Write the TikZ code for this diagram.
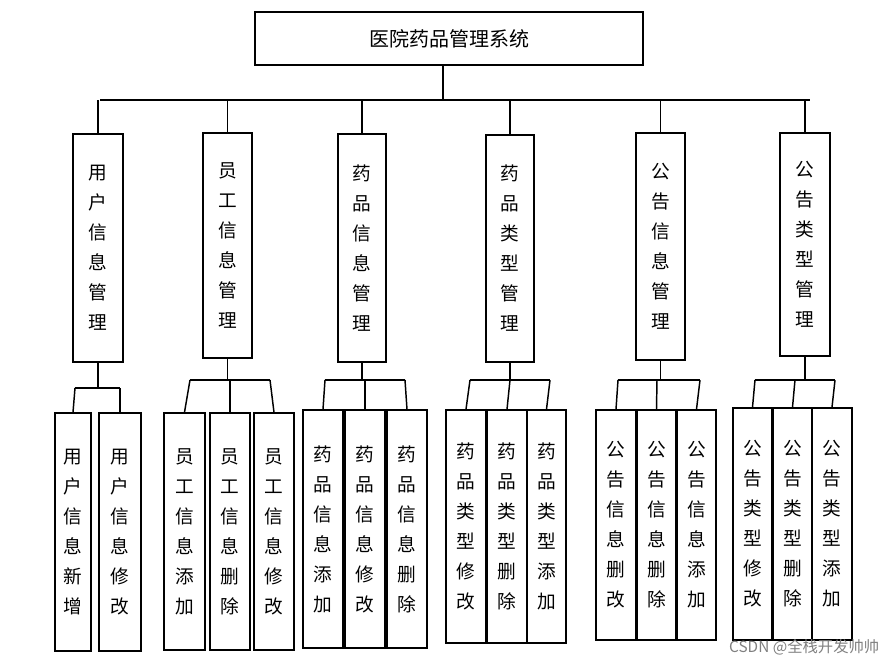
\documentclass[tikz,border=0pt]{standalone}
\usepackage{fontspec}
\newfontfamily\cjk{Noto Sans CJK SC}
\begin{document}
\begin{tikzpicture}[x=0.75pt,y=-0.75pt,
  bx/.style={draw,line width=1.1pt,inner sep=0pt,align=center,font=\cjk\fontsize{14}{22.5}\selectfont},
  ln/.style={line width=1.1pt}]
\useasboundingbox (0,0) rectangle (889,664);
\def\B#1#2#3#4#5#6{\node[bx,minimum width={(#3-#2)*0.75pt},minimum height={(#5-#4)*0.75pt}] (#1) at ({(#2+#3)/2},{(#4+#5)/2}) {#6};}
\B{top}{255}{643}{12}{65}{\fontsize{15}{18}\selectfont 医院药品管理系统}
\B{a}{73}{123}{134}{362}{用\\户\\信\\息\\管\\理}
\B{b}{203}{252}{133}{358}{员\\工\\信\\息\\管\\理}
\B{c}{338}{386}{134}{362}{药\\品\\信\\息\\管\\理}
\B{d}{486}{534}{135}{362}{药\\品\\类\\型\\管\\理}
\B{e}{636}{685}{133}{360}{公\\告\\信\\息\\管\\理}
\B{f}{780}{830}{133}{356}{公\\告\\类\\型\\管\\理}
\coordinate (bus) at (443,100);
\draw[ln] (top.south -| bus) -- (bus);
\draw[ln] (100,100) -- (810,100);
\foreach \n in {a,b,c,d,e,f}{\draw[ln] (\n.north |- bus) -- (\n.north);}
% level 3
\B{a1}{55}{91}{413}{651}{用\\户\\信\\息\\新\\增}
\B{a2}{99}{141}{413}{651}{用\\户\\信\\息\\修\\改}
\B{b1}{164}{205}{413}{650}{员\\工\\信\\息\\添\\加}
\B{b2}{210}{250}{413}{650}{员\\工\\信\\息\\删\\除}
\B{b3}{254}{294}{413}{650}{员\\工\\信\\息\\修\\改}
\B{c1}{303}{343}{410}{648}{药\\品\\信\\息\\添\\加}
\B{c2}{345}{385}{410}{648}{药\\品\\信\\息\\修\\改}
\B{c3}{387}{427}{410}{648}{药\\品\\信\\息\\删\\除}
\B{d1}{446}{486}{410}{643}{药\\品\\类\\型\\修\\改}
\B{d2}{487}{527}{410}{643}{药\\品\\类\\型\\删\\除}
\B{d3}{527}{566}{410}{643}{药\\品\\类\\型\\添\\加}
\B{e1}{596}{636}{410}{640}{公\\告\\信\\息\\删\\改}
\B{e2}{637}{676}{410}{640}{公\\告\\信\\息\\删\\除}
\B{e3}{677}{716}{410}{640}{公\\告\\信\\息\\添\\加}
\B{f1}{733}{772}{408}{640}{公\\告\\类\\型\\修\\改}
\B{f2}{773}{812}{408}{640}{公\\告\\类\\型\\删\\除}
\B{f3}{812}{852}{408}{640}{公\\告\\类\\型\\添\\加}
% group connectors
\draw[ln] (a.south) -- (a.south |- 0,388); \draw[ln] (75,388) -- (120,388);
\draw[ln] (75,388) -- (a1.north); \draw[ln] (120,388) -- (a2.north);
\draw[ln] (b.south) -- (b.south |- 0,380); \draw[ln] (190,380) -- (270,380);
\draw[ln] (190,380) -- (b1.north); \draw[ln] (230,380) -- (b2.north); \draw[ln] (270,380) -- (b3.north);
\draw[ln] (c.south) -- (c.south |- 0,380); \draw[ln] (325,380) -- (405,380);
\draw[ln] (325,380) -- (c1.north); \draw[ln] (365,380) -- (c2.north); \draw[ln] (405,380) -- (c3.north);
\draw[ln] (d.south) -- (d.south |- 0,380); \draw[ln] (470,380) -- (550,380);
\draw[ln] (470,380) -- (d1.north); \draw[ln] (510,380) -- (d2.north); \draw[ln] (550,380) -- (d3.north);
\draw[ln] (e.south) -- (e.south |- 0,380); \draw[ln] (618,380) -- (700,380);
\draw[ln] (618,380) -- (e1.north); \draw[ln] (657,380) -- (e2.north); \draw[ln] (700,380) -- (e3.north);
\draw[ln] (f.south) -- (f.south |- 0,380); \draw[ln] (755,380) -- (835,380);
\draw[ln] (755,380) -- (f1.north); \draw[ln] (795,380) -- (f2.north); \draw[ln] (835,380) -- (f3.north);
\node[text=gray,font=\cjk\fontsize{11.5}{14}\selectfont,anchor=east] (wm) at (884,647) {CSDN @全栈开发帅帅};
\end{tikzpicture}
\end{document}
